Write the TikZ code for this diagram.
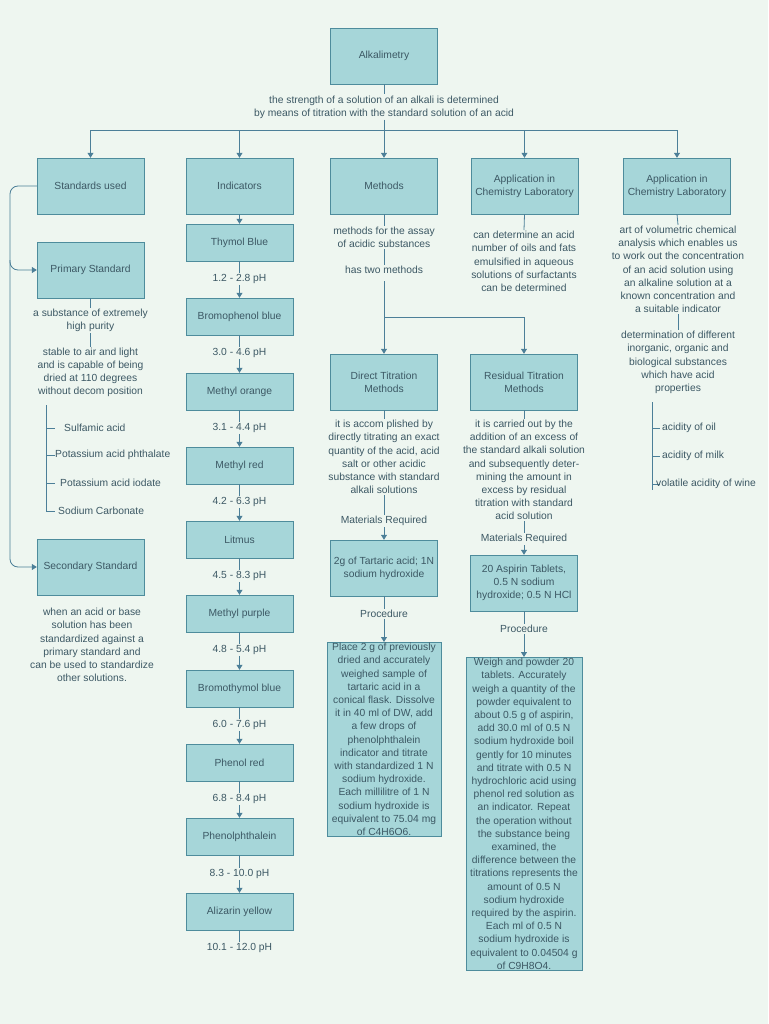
\documentclass[tikz,border=0pt]{standalone}
\usepackage{fontspec}
\setmainfont{Liberation Sans}
\usetikzlibrary{arrows.meta}
\definecolor{bg}{HTML}{EEF6F0}
\definecolor{boxfill}{HTML}{A6D6D9}
\definecolor{boxline}{HTML}{4E8C9C}
\definecolor{txt}{HTML}{3C5864}
\definecolor{ln}{HTML}{4C7F98}
\tikzset{
  box/.style={draw=boxline,fill=boxfill,minimum width=107pt,minimum height=56pt,inner sep=1pt,align=center,text=txt},
  ibox/.style={draw=boxline,fill=boxfill,minimum width=107pt,minimum height=37pt,inner sep=1pt,align=center,text=txt},
  tbox/.style={draw=boxline,fill=boxfill,inner sep=1pt,align=center,text=txt},
  lbl/.style={align=center,text=txt,inner sep=1pt},
  conn/.style={draw=ln,line width=0.8pt},
  arr/.style={conn,-{Triangle[width=6pt,length=5pt]}},
}
\begin{document}
\begin{tikzpicture}[x=1pt,y=-1pt,font=\fontsize{10.3}{13.2}\selectfont]
\fill[bg] (0,0) rectangle (768,1024);
\useasboundingbox (0,0) rectangle (768,1024);
% top
\node[box] (alk) at (384,56) {Alkalimetry};
\node[lbl] (def) at (384,107) {the strength of a solution of an alkali is determined\\by means of titration with the standard solution of an acid};
\node[box] (std) at (90.5,186) {Standards used};
\node[box] (ind) at (239.5,186) {Indicators};
\node[box] (met) at (384,186) {Methods};
\node[box] (ap1) at (524.5,186) {Application in\\Chemistry Laboratory};
\node[box] (ap2) at (677,186) {Application in\\Chemistry Laboratory};
\draw[conn] (alk.south) -- (def.north);
\coordinate (bus) at (384,130);
\draw[conn] (def.south) -- (bus);
\foreach \n in {std,ind,met,ap1,ap2}{
  \draw[arr] (bus) -| (\n.north);
}
% standards
\node[box] (pri) at (90.5,270) {Primary Standard};
\node[box] (sec) at (90.5,567) {Secondary Standard};
\draw[arr,rounded corners=8pt] (std.west) -- (10,186) -- (10,270) -- (pri.west);
\draw[arr,rounded corners=8pt] (10,260) -- (10,567) -- (sec.west);
\node[lbl] (p1) at (90.5,320.5) {a substance of extremely\\high purity};
\node[lbl] (p2) at (90.5,372.5) {stable to air and light\\and is capable of being\\dried at 110 degrees\\without decom position};
\draw[conn] (pri.south) -- (p1.north);
\draw[conn] (p1.south) -- (p2.north);
\draw[conn] (46,405) -- (46,512);
\foreach \y in {428,455,483,511}{
  \draw[conn] (46,\y) -- (55,\y);
}
\node[lbl,anchor=west] (s1) at (63,428) {Sulfamic acid};
\node[lbl,anchor=west] (s2) at (54,455) {Potassium acid phthalate};
\node[lbl,anchor=west] (s3) at (59,483) {Potassium acid iodate};
\node[lbl,anchor=west] (s4) at (57,511) {Sodium Carbonate};
\node[lbl] (sd) at (92,645) {when an acid or base\\solution has been\\standardized against a\\primary standard and\\can be used to standardize\\other solutions.};
% indicators
\node[ibox] (i1) at (239.5,242.5) {Thymol Blue};
\node[ibox] (i2) at (239.5,316.5) {Bromophenol blue};
\node[ibox] (i3) at (239.5,391.5) {Methyl orange};
\node[ibox] (i4) at (239.5,465.5) {Methyl red};
\node[ibox] (i5) at (239.5,539.5) {Litmus};
\node[ibox] (i6) at (239.5,613.5) {Methyl purple};
\node[ibox] (i7) at (239.5,688.5) {Bromothymol blue};
\node[ibox] (i8) at (239.5,762.5) {Phenol red};
\node[ibox] (i9) at (239.5,836.5) {Phenolphthalein};
\node[ibox] (i10) at (239.5,911.5) {Alizarin yellow};
\draw[arr] (ind.south) -- (i1.north);
\node[lbl] (h1) at (239.5,279) {1.2 - 2.8 pH};
\node[lbl] (h2) at (239.5,353) {3.0 - 4.6 pH};
\node[lbl] (h3) at (239.5,428) {3.1 - 4.4 pH};
\node[lbl] (h4) at (239.5,502) {4.2 - 6.3 pH};
\node[lbl] (h5) at (239.5,576) {4.5 - 8.3 pH};
\node[lbl] (h6) at (239.5,650) {4.8 - 5.4 pH};
\node[lbl] (h7) at (239.5,725) {6.0 - 7.6 pH};
\node[lbl] (h8) at (239.5,799) {6.8 - 8.4 pH};
\node[lbl] (h9) at (239.5,874) {8.3 - 10.0 pH};
\node[lbl] (h10) at (239.5,948) {10.1 - 12.0 pH};
\foreach \i in {1,...,10}{ \draw[conn] (i\i.south) -- (h\i.north); }
\foreach \i/\j in {1/2,2/3,3/4,4/5,5/6,6/7,7/8,8/9,9/10}{ \draw[arr] (h\i.south) -- (i\j.north); }
% methods
\node[lbl] (m1) at (384,237.5) {methods for the assay\\of acidic substances};
\node[lbl] (m2) at (384,270) {has two methods};
\draw[conn] (met.south) -- (m1.north);
\draw[conn] (m1.south) -- (m2.north);
\node[box] (dir) at (384,382) {Direct Titration\\Methods};
\node[box] (res) at (524,382) {Residual Titration\\Methods};
\coordinate (br) at (384,317);
\draw[arr] (384,281) -- (dir.north);
\draw[arr] (br) -| (res.north);
\node[lbl] (d1) at (384,457) {it is accom plished by\\directly titrating an exact\\quantity of the acid, acid\\salt or other acidic\\substance with standard\\alkali solutions};
\draw[conn] (dir.south) -- (d1.north);
\node[lbl] (d2) at (384,521) {Materials Required};
\draw[conn] (d1.south) -- (d2.north);
\node[box] (d3) at (384,568) {2g of Tartaric acid; 1N\\sodium hydroxide};
\draw[arr] (d2.south) -- (d3.north);
\node[lbl] (d4) at (384,614) {Procedure};
\draw[conn] (d3.south) -- (d4.north);
\node[tbox,anchor=north,minimum width=114pt] (d5) at (384,642) {Place 2 g of previously\\dried and accurately\\weighed sample of\\tartaric acid in a\\conical flask. Dissolve\\it in 40 ml of DW, add\\a few drops of\\phenolphthalein\\indicator and titrate\\with standardized 1 N\\sodium hydroxide.\\Each millilitre of 1 N\\sodium hydroxide is\\equivalent to 75.04 mg\\of C4H6O6.};
\draw[arr] (d4.south) -- (d5.north);
\node[lbl] (r1) at (524,470) {it is carried out by the\\addition of an excess of\\the standard alkali solution\\and subsequently deter-\\mining the amount in\\excess by residual\\titration with standard\\acid solution};
\draw[conn] (res.south) -- (r1.north);
\node[lbl] (r2) at (524,539) {Materials Required};
\draw[conn] (r1.south) -- (r2.north);
\node[box] (r3) at (524,583) {20 Aspirin Tablets,\\0.5 N sodium\\hydroxide; 0.5 N HCl};
\draw[arr] (r2.south) -- (r3.north);
\node[lbl] (r4) at (524,629) {Procedure};
\draw[conn] (r3.south) -- (r4.north);
\node[tbox,anchor=north,minimum width=116pt] (r5) at (524,657) {Weigh and powder 20\\tablets. Accurately\\weigh a quantity of the\\powder equivalent to\\about 0.5 g of aspirin,\\add 30.0 ml of 0.5 N\\sodium hydroxide boil\\gently for 10 minutes\\and titrate with 0.5 N\\hydrochloric acid using\\phenol red solution as\\an indicator. Repeat\\the operation without\\the substance being\\examined, the\\difference between the\\titrations represents the\\amount of 0.5 N\\sodium hydroxide\\required by the aspirin.\\Each ml of 0.5 N\\sodium hydroxide is\\equivalent to 0.04504 g\\of C9H8O4.};
\draw[arr] (r4.south) -- (r5.north);
% application 1
\node[lbl] (a1) at (524,261.5) {can determine an acid\\number of oils and fats\\emulsified in aqueous\\solutions of surfactants\\can be determined};
\draw[conn] (ap1.south) -- (a1.north);
% application 2
\node[lbl] (b1) at (678,269.5) {art of volumetric chemical\\analysis which enables us\\to work out the concentration\\of an acid solution using\\an alkaline solution at a\\known concentration and\\a suitable indicator};
\draw[conn] (ap2.south) -- (b1.north);
\node[lbl] (b2) at (678,362.5) {determination of different\\inorganic, organic and\\biological substances\\which have acid\\properties};
\draw[conn] (b1.south) -- (b2.north);
\draw[conn] (652,402) -- (652,490);
\foreach \y in {428,456,484}{ \draw[conn] (652,\y) -- (660,\y); }
\node[lbl,anchor=west] (c1) at (661,428) {acidity of oil};
\node[lbl,anchor=west] (c2) at (661,456) {acidity of milk};
\node[lbl,anchor=west] (c3) at (655,484) {volatile acidity of wine};
\end{tikzpicture}
\end{document}
